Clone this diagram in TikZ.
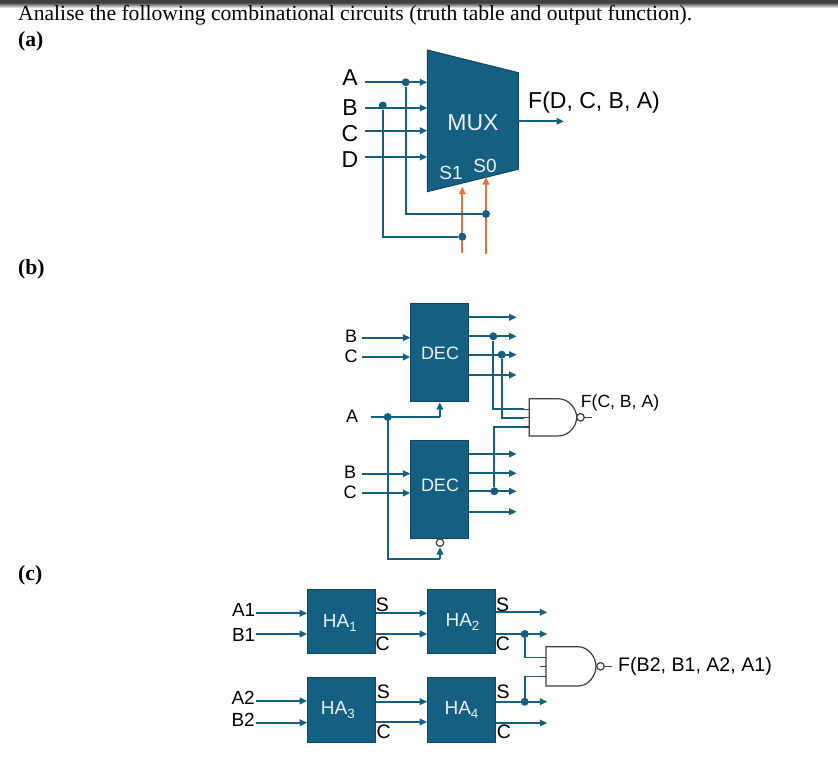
\documentclass[tikz,border=0pt]{standalone}
\usepackage{xcolor}
\usepackage{fontspec}
\setmainfont{Liberation Serif}
\newfontfamily\labelfont{Liberation Sans}
\usetikzlibrary{arrows.meta}
\definecolor{blockblue}{HTML}{156082}
\definecolor{blockedge}{HTML}{0F4761}
\definecolor{selorange}{HTML}{E97132}
\definecolor{gategray}{HTML}{404040}
\newcommand*{\sized}[1]{\labelfont\fontsize{#1}{#1}\selectfont}
\tikzset{
  wire/.style={blockblue, line width=1.8pt},
  wirearrow/.style={wire, -{Triangle[length=7.5pt,width=6.5pt]}},
  selwire/.style={selorange, line width=1.9pt, -{Triangle[length=7.5pt,width=6.5pt]}},
  dot/.style={circle, fill=blockblue, inner sep=0pt, minimum size=8pt},
  block/.style={draw=blockedge, fill=blockblue, line width=1pt, inner sep=0pt},
  blocktext/.style={text=white!92!blockblue, inner sep=0pt},
  pinlabel/.style={text=black, inner sep=0pt},
  gate/.style={draw=gategray, fill=white, line width=1.2pt},
  gatepin/.style={gategray, line width=1.2pt},
  bubble/.style={circle, draw=gategray, fill=white, line width=1.2pt, inner sep=0pt, minimum size=7.5pt},
  heading/.style={anchor=base west, inner sep=0pt, font=\fontsize{21.63}{23}\selectfont},
}
\begin{document}
\begin{tikzpicture}[x=1pt, y=-1pt]
\useasboundingbox (0,0) rectangle (838,760);

% page edge and headings
\fill[white] (0,0) rectangle (838,760);
\shade[top color=black!70, bottom color=white] (0,3) rectangle (838,8);
\fill[black!75] (0,0) rectangle (838,3);
\node[heading] (title) at (18,20.5) {Analise the following combinational circuits (truth table and output function).};
\node[heading] (parta) at (18,46.5) {\textbf{(a)}};
\node[heading] (partb) at (18,274) {\textbf{(b)}};
\node[heading] (partc) at (18,580) {\textbf{(c)}};

% (a) mux
\draw[block] (427.3,50) -- (518.3,72.7) -- (518.3,169.3) -- (427.3,191.7) -- cycle;
\node[blocktext, font=\sized{23}] (muxname) at (473,123) {MUX};
\node[blocktext, font=\sized{19}] (muxsa) at (451,173) {S1};
\node[blocktext, font=\sized{19}] (muxsb) at (485,166) {S0};
\coordinate (muxA) at (427.3,82.3);
\coordinate (muxB) at (427.3,108);
\coordinate (muxC) at (427.3,130.7);
\coordinate (muxD) at (427.3,157);
\coordinate (muxout) at (518.3,121.3);
\coordinate (muxF) at (564,121.3);
\coordinate (inA) at (365,82.3);
\coordinate (inB) at (365,108);
\coordinate (inC) at (365,130.7);
\coordinate (inD) at (365,157);
\coordinate (selatop) at (462.3,186.7);
\coordinate (selabot) at (462.3,252.5);
\coordinate (selbtop) at (486,177);
\coordinate (selbbot) at (486,253.5);
\node[pinlabel, font=\sized{23}] (labA) at (350,78) {A};
\node[pinlabel, font=\sized{23}] (labB) at (350,107.5) {B};
\node[pinlabel, font=\sized{23}] (labC) at (350,134) {C};
\node[pinlabel, font=\sized{23}] (labD) at (350,160) {D};
\node[pinlabel, font=\sized{23}] (labF) at (594,102.5) {F(D, C, B, A)};
\draw[selwire] (selabot) -- (selatop);
\draw[selwire] (selbbot) -- (selbtop);
\draw[wirearrow] (inA) -- (muxA);
\draw[wirearrow] (inB) -- (muxB);
\draw[wirearrow] (inC) -- (muxC);
\draw[wirearrow] (inD) -- (muxD);
\draw[wirearrow] (muxout) -- (muxF);
\node[dot] (dotA) at (405.7,82.3) {};
\node[dot] (dotB) at (382.7,105.5) {};
\node[dot] (dotsb) at (486,214) {};
\node[dot] (dotsa) at (462.3,236.7) {};
\draw[wire] (dotA) |- (dotsb);
\draw[wire] (dotB) |- (dotsa);

% (b) decoders
\node[block, minimum width=57.7pt, minimum height=98.4pt] (deca) at (439.8,352.5) {};
\node[block, minimum width=57.7pt, minimum height=98pt] (decb) at (439.8,489.3) {};
\node[blocktext, font=\sized{18}] (decaname) at (440,353) {DEC};
\node[blocktext, font=\sized{18}] (decbname) at (440,485.7) {DEC};
\node[pinlabel, font=\sized{18}] (labBa) at (351,336.5) {B};
\node[pinlabel, font=\sized{18}] (labCa) at (351,356.5) {C};
\node[pinlabel, font=\sized{18}] (labAb) at (352,416.5) {A};
\node[pinlabel, font=\sized{18}] (labBb) at (350,472) {B};
\node[pinlabel, font=\sized{18}] (labCb) at (350,492.5) {C};
\node[pinlabel, font=\sized{17.6}] (labFb) at (620,402.5) {F(C, B, A)};
\coordinate (inBa) at (362,337.7);
\coordinate (inCa) at (362,357);
\coordinate (inBb) at (362,473.7);
\coordinate (inCb) at (362,493);
\coordinate (inAb) at (370.7,417);
\coordinate (enawire) at (440,417);
\coordinate (enbwire) at (440,559);
\coordinate (outa) at (516.7,317.3);
\coordinate (outb) at (516.7,336.3);
\coordinate (outc) at (516.7,354.7);
\coordinate (outd) at (516.7,375);
\coordinate (oute) at (516.7,454);
\coordinate (outf) at (516.7,473.3);
\coordinate (outg) at (516.7,491.3);
\coordinate (outh) at (516.7,511.7);
\draw[wirearrow] (inBa) -- (inBa -| deca.west);
\draw[wirearrow] (inCa) -- (inCa -| deca.west);
\draw[wirearrow] (inBb) -- (inBb -| decb.west);
\draw[wirearrow] (inCb) -- (inCb -| decb.west);
\draw[wirearrow] (outa -| deca.east) -- (outa);
\draw[wirearrow] (outb -| deca.east) -- (outb);
\draw[wirearrow] (outc -| deca.east) -- (outc);
\draw[wirearrow] (outd -| deca.east) -- (outd);
\draw[wirearrow] (oute -| decb.east) -- (oute);
\draw[wirearrow] (outf -| decb.east) -- (outf);
\draw[wirearrow] (outg -| decb.east) -- (outg);
\draw[wirearrow] (outh -| decb.east) -- (outh);
\node[dot] (dotAb) at (387.7,417) {};
\node[dot] (dotb) at (493.3,336.3) {};
\node[dot] (dotc) at (501.7,354.7) {};
\node[dot] (dotg) at (494.3,491.3) {};
\node[bubble] (decbub) at (440,542.7) {};
\draw[wire] (inAb) -- (enawire);
\draw[wirearrow] (enawire) -- (deca.south);
\draw[wire] (dotAb) |- (enbwire);
\draw[wirearrow] (enbwire) -- (decbub.south);

% (b) gate
\draw[gate] (529.3,398.7) -- (558,398.7) .. controls (570,398.7) and (576.7,410) .. (576.7,417.3) .. controls (576.7,425) and (570,436) .. (558,436) -- (529.3,436) -- cycle;
\coordinate (gbpina) at (529.3,409.3);
\coordinate (gbpinb) at (529.3,417.7);
\coordinate (gbpinc) at (529.3,427);
\coordinate (gbstuba) at (524,409.3);
\coordinate (gbstubb) at (524,417.7);
\coordinate (gbstubc) at (524,427);
\coordinate (gbout) at (591.7,417.3);
\node[bubble] (gbbub) at (580.5,417.3) {};
\draw[gatepin] (gbstuba) -- (gbpina);
\draw[gatepin] (gbstubb) -- (gbpinb);
\draw[gatepin] (gbstubc) -- (gbpinc);
\draw[gatepin] (gbbub) -- (gbout);
\draw[wire] (dotb) |- (gbstuba);
\draw[wire] (dotc) |- (gbstubb);
\draw[wire] (dotg) |- (gbstubc);

% (c) half adders
\node[block, minimum width=68pt, minimum height=64.3pt] (haa) at (341.7,621.2) {};
\node[block, minimum width=68pt, minimum height=64.3pt] (hab) at (461.7,621.2) {};
\node[block, minimum width=68pt, minimum height=64.6pt] (hac) at (341.7,710) {};
\node[block, minimum width=68pt, minimum height=64.6pt] (had) at (461.7,710) {};
\node[blocktext, font=\sized{19}] (haaname) at (340,623) {HA\textsubscript{1}};
\node[blocktext, font=\sized{19}] (habname) at (462.7,622) {HA\textsubscript{2}};
\node[blocktext, font=\sized{19}] (hacname) at (338,710) {HA\textsubscript{3}};
\node[blocktext, font=\sized{19}] (hadname) at (461.7,710) {HA\textsubscript{4}};
\node[pinlabel, font=\sized{19}, anchor=east] (labAa) at (255.5,610) {A1};
\node[pinlabel, font=\sized{19}, anchor=east] (labBc) at (255.5,635) {B1};
\node[pinlabel, font=\sized{19}, anchor=east] (labAc) at (255,697.5) {A2};
\node[pinlabel, font=\sized{19}, anchor=east] (labBd) at (255,720) {B2};
\node[pinlabel, font=\sized{19.5}] (labSa) at (382.3,604.3) {S};
\node[pinlabel, font=\sized{19.5}] (labSb) at (502.7,604.3) {S};
\node[pinlabel, font=\sized{19.5}] (labSc) at (383.3,691.7) {S};
\node[pinlabel, font=\sized{19.5}] (labSd) at (503,691.7) {S};
\node[pinlabel, font=\sized{19.5}] (labCc) at (382.7,644) {C};
\node[pinlabel, font=\sized{19.5}] (labCd) at (503,644) {C};
\node[pinlabel, font=\sized{19.5}] (labCe) at (383.7,731.7) {C};
\node[pinlabel, font=\sized{19.5}] (labCf) at (504,731.7) {C};
\node[pinlabel, font=\sized{19.6}, anchor=west] (labFc) at (618,666.7) {F(B2, B1, A2, A1)};
\coordinate (inAa) at (255.7,613.3);
\coordinate (inBc) at (255.7,634);
\coordinate (inAc) at (255.7,701);
\coordinate (inBd) at (255.7,722.7);
\coordinate (wireSa) at (hab.west |- 0,613.3);
\coordinate (wireCa) at (hab.west |- 0,634);
\coordinate (wireSc) at (had.west |- 0,701.7);
\coordinate (wireCc) at (had.west |- 0,722);
\coordinate (outSb) at (547.3,612.3);
\coordinate (outCb) at (547.3,634);
\coordinate (outSd) at (547.3,701.7);
\coordinate (outCd) at (547.3,723);
\draw[wirearrow] (inAa) -- (inAa -| haa.west);
\draw[wirearrow] (inBc) -- (inBc -| haa.west);
\draw[wirearrow] (inAc) -- (inAc -| hac.west);
\draw[wirearrow] (inBd) -- (inBd -| hac.west);
\draw[wirearrow] (wireSa -| haa.east) -- (wireSa);
\draw[wirearrow] (wireCa -| haa.east) -- (wireCa);
\draw[wirearrow] (wireSc -| hac.east) -- (wireSc);
\draw[wirearrow] (wireCc -| hac.east) -- (wireCc);
\draw[wirearrow] (outSb -| hab.east) -- (outSb);
\draw[wirearrow] (outCb -| hab.east) -- (outCb);
\draw[wirearrow] (outSd -| had.east) -- (outSd);
\draw[wirearrow] (outCd -| had.east) -- (outCd);
\node[dot] (dotCb) at (524.7,634) {};
\node[dot] (dotSd) at (524.7,701.7) {};

% (c) gate
\draw[gate] (546,646.7) -- (578,646.7) .. controls (589,646.7) and (596,658) .. (596,666.3) .. controls (596,675) and (589,686) .. (578,686) -- (546,686) -- cycle;
\coordinate (gcpina) at (546,657.4);
\coordinate (gcpinb) at (546,666.7);
\coordinate (gcpinc) at (546,676.5);
\coordinate (gcstuba) at (540,657.4);
\coordinate (gcstubb) at (540,666.7);
\coordinate (gcstubc) at (540,676.5);
\coordinate (gcout) at (612,666.3);
\node[bubble] (gcbub) at (600.5,666.3) {};
\draw[gatepin] (gcstuba) -- (gcpina);
\draw[gatepin] (gcstubb) -- (gcpinb);
\draw[gatepin] (gcstubc) -- (gcpinc);
\draw[gatepin] (gcbub) -- (gcout);
\draw[wire] (dotCb) |- (gcstuba);
\draw[wire] (dotSd) |- (gcstubc);
\end{tikzpicture}
\end{document}
